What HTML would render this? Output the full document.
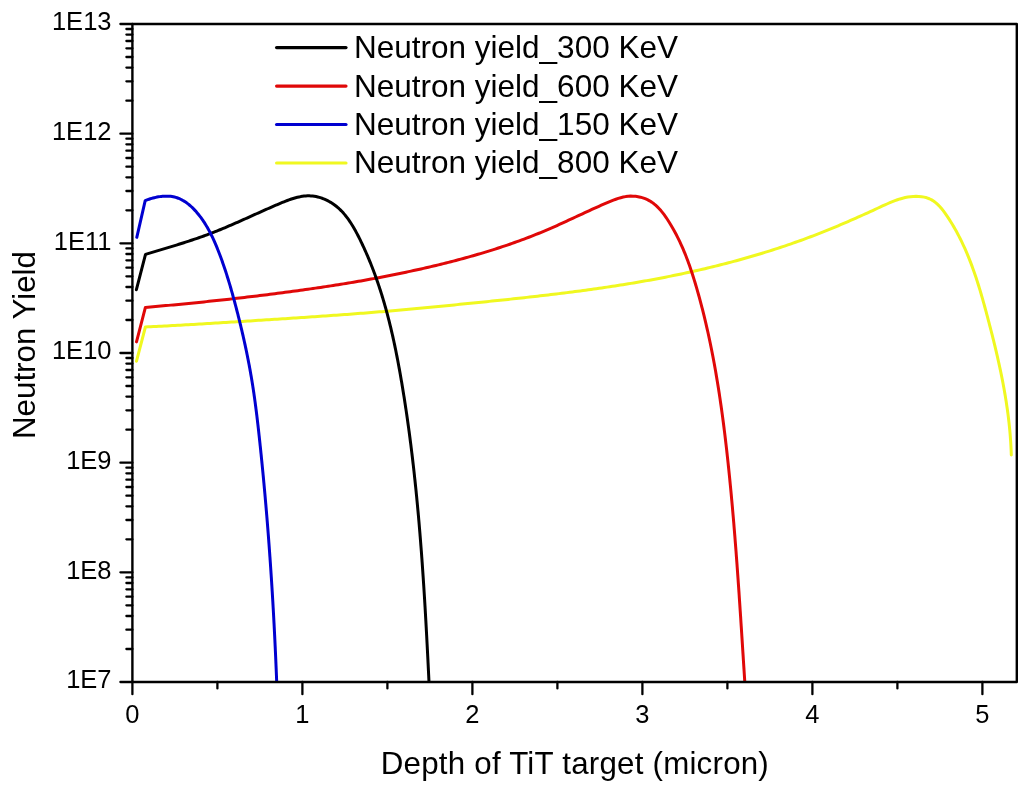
<!DOCTYPE html>
<html><head><meta charset="utf-8"><title>Neutron Yield vs Depth</title>
<style>
html,body{margin:0;padding:0;background:#fff;}
body{width:1025px;height:789px;overflow:hidden;}
svg{display:block;}
text{font-family:"Liberation Sans",Arial,sans-serif;fill:#000;}
</style></head><body>
<svg width="1025" height="789" viewBox="0 0 1025 789">
<rect x="0" y="0" width="1025" height="789" fill="#fff"/>
<defs><clipPath id="pc"><rect x="132.4" y="24.0" width="884.4" height="659.0"/></clipPath></defs>
<g fill="none" stroke-width="3.0" stroke-linejoin="round" stroke-linecap="round" clip-path="url(#pc)">
<path stroke="#f0f820" d="M136.5,361.2 L145.40,327.00 L148.09,326.87 L150.78,326.74 L153.47,326.60 L156.17,326.46 L158.86,326.32 L161.55,326.18 L164.24,326.04 L166.93,325.89 L169.62,325.75 L172.31,325.60 L175.00,325.45 L177.69,325.30 L180.38,325.15 L183.07,325.00 L185.76,324.84 L188.45,324.69 L191.14,324.53 L193.83,324.38 L196.52,324.22 L199.21,324.06 L201.90,323.90 L204.59,323.74 L207.28,323.58 L209.97,323.41 L212.66,323.25 L215.35,323.08 L218.04,322.92 L220.73,322.75 L223.41,322.59 L226.10,322.42 L228.79,322.25 L231.48,322.08 L234.17,321.91 L236.86,321.74 L239.55,321.57 L242.24,321.40 L244.93,321.23 L247.62,321.06 L250.31,320.89 L253.00,320.72 L255.68,320.55 L258.37,320.37 L261.06,320.20 L263.75,320.03 L266.44,319.85 L269.13,319.68 L271.82,319.51 L274.51,319.33 L277.20,319.16 L279.89,318.99 L282.58,318.81 L285.27,318.64 L287.96,318.46 L290.65,318.29 L293.34,318.11 L296.03,317.93 L298.72,317.75 L301.41,317.57 L304.09,317.40 L306.78,317.22 L309.47,317.03 L312.16,316.85 L314.85,316.67 L317.54,316.48 L320.23,316.30 L322.92,316.11 L325.61,315.93 L328.29,315.74 L330.98,315.55 L333.67,315.35 L336.36,315.16 L339.05,314.97 L341.74,314.77 L344.42,314.58 L347.11,314.38 L349.80,314.18 L352.48,313.97 L355.17,313.77 L357.86,313.56 L360.54,313.36 L363.23,313.15 L365.92,312.94 L368.60,312.72 L371.29,312.51 L373.97,312.29 L376.66,312.07 L379.34,311.85 L382.03,311.63 L384.71,311.40 L387.39,311.17 L390.08,310.94 L392.76,310.71 L395.44,310.47 L398.13,310.24 L400.81,310.00 L403.49,309.76 L406.17,309.51 L408.86,309.27 L411.54,309.02 L414.22,308.77 L416.90,308.52 L419.58,308.27 L422.26,308.02 L424.95,307.77 L427.63,307.51 L430.31,307.25 L432.99,306.99 L435.67,306.73 L438.35,306.47 L441.03,306.21 L443.71,305.95 L446.39,305.68 L449.07,305.42 L451.75,305.15 L454.43,304.89 L457.12,304.62 L459.80,304.35 L462.48,304.08 L465.16,303.82 L467.84,303.55 L470.52,303.28 L473.20,303.01 L475.88,302.73 L478.56,302.46 L481.25,302.19 L483.93,301.92 L486.61,301.64 L489.29,301.37 L491.97,301.09 L494.65,300.82 L497.34,300.54 L500.02,300.26 L502.70,299.98 L505.38,299.70 L508.06,299.41 L510.74,299.13 L513.42,298.84 L516.10,298.55 L518.79,298.26 L521.47,297.97 L524.15,297.67 L526.83,297.38 L529.51,297.08 L532.19,296.78 L534.86,296.48 L537.54,296.17 L540.22,295.86 L542.90,295.55 L545.58,295.24 L548.26,294.92 L550.93,294.61 L553.61,294.28 L556.29,293.96 L558.96,293.63 L561.64,293.30 L564.31,292.97 L566.99,292.63 L569.66,292.29 L572.33,291.95 L575.01,291.60 L577.68,291.25 L580.35,290.90 L583.02,290.54 L585.69,290.18 L588.36,289.81 L591.03,289.44 L593.70,289.07 L596.37,288.69 L599.03,288.31 L601.70,287.92 L604.37,287.53 L607.03,287.14 L609.70,286.74 L612.36,286.33 L615.02,285.93 L617.68,285.51 L620.35,285.09 L623.01,284.67 L625.67,284.24 L628.32,283.81 L630.98,283.37 L633.64,282.93 L636.29,282.48 L638.95,282.02 L641.60,281.56 L644.26,281.10 L646.91,280.62 L649.56,280.15 L652.21,279.66 L654.86,279.18 L657.50,278.68 L660.15,278.18 L662.80,277.67 L665.44,277.16 L668.08,276.64 L670.73,276.12 L673.37,275.58 L676.01,275.04 L678.65,274.50 L681.28,273.95 L683.92,273.39 L686.55,272.82 L689.19,272.25 L691.82,271.67 L694.45,271.08 L697.08,270.49 L699.71,269.89 L702.33,269.28 L704.96,268.67 L707.58,268.04 L710.21,267.41 L712.83,266.78 L715.44,266.13 L718.06,265.48 L720.68,264.82 L723.29,264.15 L725.90,263.48 L728.51,262.80 L731.12,262.11 L733.72,261.41 L736.32,260.71 L738.93,259.99 L741.52,259.27 L744.12,258.54 L746.71,257.81 L749.31,257.06 L751.90,256.31 L754.48,255.55 L757.07,254.78 L759.65,254.01 L762.23,253.22 L764.80,252.43 L767.38,251.63 L769.95,250.82 L772.51,250.01 L775.08,249.18 L777.64,248.35 L780.20,247.51 L782.76,246.66 L785.31,245.80 L787.86,244.93 L790.41,244.06 L792.95,243.17 L795.49,242.28 L798.03,241.38 L800.56,240.47 L803.09,239.55 L805.62,238.62 L808.14,237.69 L810.66,236.74 L813.17,235.79 L815.68,234.82 L818.19,233.85 L820.70,232.87 L823.20,231.88 L825.69,230.88 L828.19,229.88 L830.68,228.86 L833.16,227.84 L835.65,226.81 L838.13,225.77 L840.61,224.72 L843.08,223.67 L845.56,222.61 L848.03,221.54 L850.50,220.47 L852.97,219.39 L855.44,218.30 L857.90,217.20 L860.36,216.11 L862.83,215.00 L865.29,213.89 L867.75,212.77 L870.21,211.65 L872.67,210.53 L875.13,209.40 L877.59,208.26 L880.05,207.12 L882.51,205.98 L884.98,204.85 L887.45,203.75 L889.93,202.67 L892.43,201.64 L894.94,200.67 L897.47,199.76 L900.03,198.94 L902.61,198.21 L905.22,197.58 L907.86,197.06 L910.54,196.68 L913.26,196.43 L916.02,196.33 L918.79,196.40 L921.54,196.66 L924.23,197.12 L926.84,197.80 L929.31,198.72 L931.65,199.88 L933.84,201.27 L935.92,202.85 L937.87,204.60 L939.73,206.50 L941.50,208.53 L943.19,210.65 L944.82,212.85 L946.39,215.10 L947.92,217.37 L949.41,219.66 L950.87,221.97 L952.29,224.29 L953.67,226.62 L955.03,228.97 L956.35,231.33 L957.63,233.71 L958.89,236.09 L960.11,238.50 L961.31,240.91 L962.48,243.34 L963.62,245.77 L964.73,248.22 L965.81,250.68 L966.88,253.15 L967.91,255.63 L968.92,258.12 L969.91,260.62 L970.88,263.12 L971.83,265.64 L972.75,268.16 L973.66,270.70 L974.54,273.24 L975.41,275.78 L976.26,278.34 L977.10,280.90 L977.92,283.46 L978.73,286.03 L979.52,288.61 L980.30,291.19 L981.06,293.78 L981.82,296.37 L982.56,298.96 L983.30,301.56 L984.02,304.16 L984.74,306.76 L985.45,309.37 L986.16,311.97 L986.86,314.58 L987.55,317.19 L988.24,319.80 L988.93,322.41 L989.61,325.03 L990.29,327.64 L990.96,330.25 L991.63,332.87 L992.29,335.48 L992.95,338.10 L993.60,340.72 L994.24,343.34 L994.88,345.96 L995.51,348.58 L996.13,351.20 L996.75,353.83 L997.35,356.45 L997.95,359.08 L998.54,361.71 L999.12,364.34 L999.69,366.97 L1000.26,369.60 L1000.81,372.24 L1001.35,374.87 L1001.88,377.51 L1002.40,380.15 L1002.91,382.79 L1003.41,385.44 L1003.89,388.08 L1004.37,390.73 L1004.83,393.38 L1005.28,396.03 L1005.71,398.69 L1006.14,401.34 L1006.54,404.00 L1006.94,406.66 L1007.32,409.33 L1007.69,411.99 L1008.04,414.66 L1008.37,417.33 L1008.69,420.00 L1009.00,422.68 L1009.28,425.36 L1009.56,428.04 L1009.81,430.72 L1010.05,433.41 L1010.27,436.10 L1010.47,438.79 L1010.66,441.48 L1010.82,444.18 L1010.97,446.88 L1011.10,449.58 L1011.21,452.29 L1011.30,455.00"/>
<path stroke="#e00808" d="M136.5,341.9 L145.40,307.40 L147.95,307.18 L150.50,306.96 L153.05,306.74 L155.59,306.52 L158.14,306.29 L160.69,306.06 L163.23,305.83 L165.78,305.60 L168.32,305.37 L170.87,305.13 L173.41,304.90 L175.96,304.66 L178.50,304.42 L181.05,304.17 L183.59,303.93 L186.13,303.68 L188.68,303.43 L191.22,303.18 L193.76,302.93 L196.30,302.67 L198.84,302.41 L201.38,302.15 L203.92,301.89 L206.46,301.63 L209.00,301.36 L211.54,301.09 L214.08,300.82 L216.62,300.55 L219.16,300.28 L221.70,300.00 L224.24,299.72 L226.78,299.44 L229.31,299.16 L231.85,298.87 L234.39,298.59 L236.93,298.30 L239.46,298.00 L242.00,297.71 L244.54,297.41 L247.08,297.11 L249.61,296.81 L252.15,296.51 L254.68,296.20 L257.22,295.90 L259.76,295.59 L262.29,295.27 L264.83,294.96 L267.36,294.64 L269.90,294.32 L272.44,294.00 L274.97,293.68 L277.51,293.35 L280.04,293.02 L282.58,292.69 L285.11,292.35 L287.65,292.02 L290.18,291.68 L292.72,291.34 L295.25,290.99 L297.79,290.65 L300.32,290.30 L302.86,289.95 L305.39,289.59 L307.93,289.23 L310.46,288.87 L312.99,288.51 L315.53,288.14 L318.06,287.77 L320.59,287.40 L323.12,287.02 L325.65,286.64 L328.18,286.26 L330.71,285.87 L333.23,285.48 L335.76,285.08 L338.29,284.68 L340.81,284.28 L343.33,283.87 L345.85,283.46 L348.37,283.05 L350.89,282.63 L353.41,282.20 L355.93,281.77 L358.44,281.34 L360.96,280.90 L363.47,280.46 L365.98,280.01 L368.49,279.56 L370.99,279.10 L373.50,278.64 L376.00,278.17 L378.51,277.70 L381.01,277.22 L383.51,276.74 L386.01,276.25 L388.51,275.76 L391.01,275.26 L393.51,274.76 L396.01,274.26 L398.51,273.74 L401.01,273.23 L403.51,272.71 L406.01,272.18 L408.51,271.65 L411.01,271.12 L413.50,270.58 L416.00,270.03 L418.50,269.48 L421.00,268.92 L423.49,268.36 L425.99,267.79 L428.48,267.21 L430.98,266.63 L433.47,266.04 L435.96,265.45 L438.45,264.85 L440.94,264.24 L443.43,263.63 L445.91,263.01 L448.40,262.38 L450.88,261.75 L453.36,261.11 L455.84,260.46 L458.32,259.81 L460.79,259.15 L463.27,258.48 L465.74,257.80 L468.20,257.12 L470.67,256.43 L473.13,255.73 L475.59,255.02 L478.05,254.30 L480.50,253.58 L482.96,252.85 L485.41,252.11 L487.85,251.36 L490.29,250.60 L492.73,249.83 L495.17,249.06 L497.60,248.28 L500.03,247.48 L502.46,246.68 L504.88,245.87 L507.30,245.05 L509.71,244.22 L512.12,243.38 L514.53,242.54 L516.93,241.68 L519.32,240.81 L521.72,239.93 L524.10,239.04 L526.49,238.15 L528.87,237.24 L531.24,236.32 L533.61,235.39 L535.98,234.45 L538.34,233.50 L540.69,232.54 L543.04,231.57 L545.38,230.59 L547.72,229.59 L550.05,228.59 L552.38,227.57 L554.70,226.55 L557.02,225.51 L559.34,224.47 L561.66,223.42 L563.97,222.36 L566.28,221.30 L568.59,220.23 L570.90,219.16 L573.22,218.09 L575.53,217.01 L577.85,215.93 L580.17,214.85 L582.49,213.77 L584.82,212.69 L587.16,211.61 L589.50,210.53 L591.85,209.46 L594.20,208.39 L596.56,207.33 L598.94,206.27 L601.32,205.21 L603.71,204.17 L606.11,203.13 L608.53,202.11 L610.95,201.10 L613.39,200.14 L615.84,199.24 L618.29,198.42 L620.76,197.69 L623.23,197.08 L625.70,196.60 L628.19,196.28 L630.67,196.12 L633.15,196.13 L635.62,196.31 L638.06,196.66 L640.47,197.17 L642.83,197.84 L645.14,198.67 L647.39,199.66 L649.57,200.81 L651.66,202.11 L653.66,203.56 L655.59,205.15 L657.43,206.86 L659.21,208.68 L660.91,210.60 L662.55,212.60 L664.13,214.67 L665.66,216.81 L667.13,218.99 L668.56,221.20 L669.95,223.44 L671.30,225.68 L672.61,227.94 L673.89,230.21 L675.13,232.49 L676.34,234.78 L677.52,237.08 L678.66,239.39 L679.77,241.71 L680.86,244.04 L681.91,246.38 L682.94,248.72 L683.93,251.08 L684.91,253.44 L685.86,255.81 L686.78,258.18 L687.68,260.57 L688.56,262.96 L689.42,265.35 L690.26,267.75 L691.08,270.16 L691.89,272.58 L692.67,274.99 L693.45,277.42 L694.20,279.84 L694.94,282.28 L695.67,284.71 L696.39,287.15 L697.10,289.59 L697.80,292.04 L698.48,294.49 L699.16,296.94 L699.83,299.40 L700.49,301.85 L701.14,304.31 L701.79,306.78 L702.42,309.24 L703.04,311.71 L703.66,314.18 L704.27,316.65 L704.87,319.13 L705.46,321.61 L706.04,324.09 L706.61,326.57 L707.18,329.05 L707.74,331.54 L708.29,334.03 L708.83,336.52 L709.36,339.02 L709.89,341.51 L710.41,344.01 L710.92,346.51 L711.43,349.01 L711.92,351.52 L712.41,354.02 L712.90,356.53 L713.37,359.04 L713.84,361.55 L714.31,364.07 L714.76,366.58 L715.21,369.10 L715.65,371.61 L716.09,374.13 L716.52,376.65 L716.94,379.18 L717.36,381.70 L717.77,384.23 L718.18,386.75 L718.58,389.28 L718.97,391.81 L719.36,394.34 L719.74,396.87 L720.12,399.40 L720.49,401.93 L720.86,404.47 L721.22,407.00 L721.58,409.54 L721.93,412.08 L722.28,414.61 L722.62,417.15 L722.96,419.69 L723.29,422.23 L723.62,424.77 L723.94,427.31 L724.26,429.86 L724.58,432.40 L724.89,434.94 L725.20,437.48 L725.50,440.03 L725.80,442.57 L726.10,445.12 L726.39,447.66 L726.68,450.20 L726.97,452.75 L727.25,455.29 L727.53,457.84 L727.80,460.38 L728.07,462.93 L728.34,465.47 L728.61,468.02 L728.88,470.56 L729.14,473.11 L729.39,475.65 L729.65,478.20 L729.90,480.74 L730.15,483.29 L730.40,485.83 L730.65,488.37 L730.89,490.92 L731.13,493.46 L731.37,496.01 L731.60,498.55 L731.84,501.09 L732.07,503.64 L732.30,506.18 L732.52,508.73 L732.75,511.27 L732.97,513.81 L733.19,516.36 L733.41,518.90 L733.62,521.44 L733.84,523.99 L734.05,526.53 L734.26,529.08 L734.47,531.62 L734.67,534.16 L734.88,536.71 L735.08,539.25 L735.28,541.80 L735.48,544.34 L735.68,546.88 L735.87,549.43 L736.07,551.97 L736.26,554.52 L736.45,557.06 L736.64,559.61 L736.83,562.15 L737.02,564.70 L737.20,567.24 L737.39,569.79 L737.57,572.33 L737.75,574.88 L737.93,577.42 L738.11,579.97 L738.29,582.52 L738.47,585.06 L738.65,587.61 L738.82,590.15 L739.00,592.70 L739.17,595.25 L739.34,597.80 L739.51,600.34 L739.68,602.89 L739.85,605.44 L740.02,607.99 L740.19,610.53 L740.36,613.08 L740.53,615.63 L740.70,618.18 L740.86,620.73 L741.03,623.28 L741.19,625.83 L741.36,628.38 L741.52,630.93 L741.69,633.48 L741.85,636.03 L742.02,638.58 L742.18,641.13 L742.34,643.68 L742.51,646.24 L742.67,648.79 L742.83,651.34 L743.00,653.89 L743.16,656.45 L743.32,659.00 L743.49,661.56 L743.65,664.11 L743.81,666.66 L743.98,669.22 L744.14,671.78 L744.31,674.33 L744.47,676.89 L744.63,679.44 L744.80,682.00"/>
<path stroke="#000000" d="M136.4,289.7 L145.50,254.40 L147.16,253.90 L148.81,253.40 L150.47,252.90 L152.13,252.40 L153.79,251.90 L155.46,251.40 L157.12,250.90 L158.79,250.40 L160.46,249.90 L162.13,249.40 L163.80,248.89 L165.48,248.39 L167.15,247.89 L168.82,247.38 L170.50,246.87 L172.17,246.36 L173.84,245.85 L175.52,245.33 L177.19,244.81 L178.86,244.29 L180.53,243.77 L182.20,243.24 L183.87,242.71 L185.54,242.17 L187.21,241.64 L188.87,241.09 L190.53,240.55 L192.19,239.99 L193.85,239.44 L195.51,238.88 L197.16,238.31 L198.81,237.74 L200.46,237.16 L202.10,236.58 L203.75,235.99 L205.38,235.39 L207.02,234.79 L208.65,234.18 L210.27,233.57 L211.89,232.95 L213.51,232.32 L215.13,231.68 L216.74,231.04 L218.35,230.40 L219.95,229.75 L221.56,229.09 L223.16,228.43 L224.75,227.76 L226.35,227.09 L227.94,226.41 L229.53,225.73 L231.12,225.05 L232.71,224.36 L234.30,223.67 L235.89,222.98 L237.47,222.28 L239.06,221.58 L240.64,220.87 L242.23,220.17 L243.81,219.46 L245.40,218.75 L246.98,218.04 L248.57,217.33 L250.16,216.62 L251.75,215.90 L253.33,215.19 L254.93,214.47 L256.52,213.75 L258.11,213.04 L259.71,212.32 L261.31,211.61 L262.91,210.89 L264.51,210.18 L266.12,209.46 L267.72,208.75 L269.34,208.04 L270.95,207.33 L272.57,206.62 L274.19,205.92 L275.82,205.22 L277.45,204.52 L279.09,203.82 L280.73,203.13 L282.37,202.44 L284.02,201.77 L285.67,201.12 L287.33,200.48 L288.99,199.87 L290.66,199.29 L292.33,198.74 L294.00,198.22 L295.67,197.75 L297.35,197.32 L299.04,196.93 L300.72,196.60 L302.41,196.33 L304.11,196.11 L305.80,195.96 L307.50,195.87 L309.21,195.86 L310.91,195.92 L312.62,196.06 L314.33,196.28 L316.04,196.58 L317.74,196.96 L319.44,197.41 L321.12,197.93 L322.78,198.52 L324.41,199.17 L326.03,199.88 L327.61,200.64 L329.15,201.46 L330.66,202.33 L332.12,203.25 L333.54,204.21 L334.93,205.21 L336.27,206.26 L337.58,207.35 L338.86,208.48 L340.10,209.64 L341.30,210.84 L342.48,212.08 L343.62,213.35 L344.73,214.65 L345.81,215.98 L346.87,217.33 L347.90,218.72 L348.91,220.12 L349.89,221.56 L350.84,223.01 L351.78,224.48 L352.70,225.97 L353.59,227.48 L354.47,229.01 L355.33,230.54 L356.17,232.09 L357.00,233.65 L357.82,235.22 L358.63,236.80 L359.42,238.38 L360.20,239.96 L360.97,241.55 L361.74,243.14 L362.49,244.74 L363.24,246.33 L363.98,247.93 L364.71,249.54 L365.43,251.14 L366.14,252.75 L366.84,254.36 L367.54,255.97 L368.22,257.58 L368.90,259.20 L369.57,260.82 L370.24,262.44 L370.89,264.06 L371.54,265.69 L372.17,267.32 L372.81,268.95 L373.43,270.58 L374.04,272.21 L374.65,273.85 L375.25,275.49 L375.85,277.13 L376.43,278.77 L377.01,280.42 L377.58,282.07 L378.15,283.72 L378.70,285.37 L379.26,287.02 L379.80,288.68 L380.34,290.33 L380.87,291.99 L381.39,293.65 L381.91,295.32 L382.42,296.98 L382.93,298.65 L383.42,300.31 L383.92,301.98 L384.40,303.66 L384.88,305.33 L385.36,307.00 L385.83,308.68 L386.29,310.36 L386.75,312.04 L387.20,313.72 L387.64,315.40 L388.08,317.08 L388.52,318.77 L388.95,320.45 L389.37,322.14 L389.79,323.83 L390.21,325.52 L390.62,327.21 L391.02,328.91 L391.42,330.60 L391.82,332.29 L392.21,333.99 L392.59,335.69 L392.98,337.39 L393.35,339.09 L393.73,340.79 L394.09,342.49 L394.46,344.19 L394.82,345.90 L395.17,347.60 L395.53,349.31 L395.88,351.02 L396.22,352.72 L396.56,354.43 L396.90,356.14 L397.23,357.85 L397.56,359.56 L397.89,361.27 L398.21,362.99 L398.53,364.70 L398.85,366.41 L399.16,368.13 L399.47,369.84 L399.78,371.56 L400.09,373.27 L400.39,374.99 L400.69,376.71 L400.99,378.43 L401.28,380.14 L401.58,381.86 L401.87,383.58 L402.15,385.30 L402.44,387.02 L402.72,388.74 L403.00,390.46 L403.28,392.18 L403.56,393.90 L403.83,395.62 L404.11,397.34 L404.38,399.06 L404.65,400.79 L404.91,402.51 L405.18,404.23 L405.44,405.95 L405.70,407.68 L405.96,409.40 L406.22,411.12 L406.47,412.85 L406.72,414.57 L406.97,416.30 L407.22,418.02 L407.47,419.75 L407.71,421.47 L407.95,423.20 L408.19,424.92 L408.43,426.65 L408.67,428.38 L408.90,430.10 L409.14,431.83 L409.37,433.56 L409.60,435.28 L409.83,437.01 L410.05,438.74 L410.27,440.47 L410.50,442.20 L410.72,443.93 L410.94,445.65 L411.15,447.38 L411.37,449.11 L411.58,450.84 L411.79,452.57 L412.00,454.30 L412.21,456.03 L412.42,457.76 L412.62,459.49 L412.82,461.23 L413.02,462.96 L413.22,464.69 L413.42,466.42 L413.62,468.15 L413.81,469.88 L414.01,471.62 L414.20,473.35 L414.39,475.08 L414.57,476.81 L414.76,478.55 L414.95,480.28 L415.13,482.01 L415.31,483.75 L415.49,485.48 L415.67,487.22 L415.85,488.95 L416.03,490.68 L416.20,492.42 L416.37,494.15 L416.55,495.89 L416.72,497.62 L416.88,499.36 L417.05,501.09 L417.22,502.83 L417.38,504.56 L417.55,506.30 L417.71,508.04 L417.87,509.77 L418.03,511.51 L418.19,513.25 L418.34,514.98 L418.50,516.72 L418.65,518.46 L418.80,520.19 L418.96,521.93 L419.11,523.67 L419.25,525.40 L419.40,527.14 L419.55,528.88 L419.69,530.62 L419.84,532.36 L419.98,534.09 L420.12,535.83 L420.26,537.57 L420.40,539.31 L420.54,541.05 L420.68,542.79 L420.81,544.52 L420.95,546.26 L421.08,548.00 L421.21,549.74 L421.35,551.48 L421.48,553.22 L421.61,554.96 L421.73,556.70 L421.86,558.44 L421.99,560.18 L422.11,561.92 L422.24,563.66 L422.36,565.40 L422.48,567.14 L422.60,568.88 L422.72,570.62 L422.84,572.36 L422.96,574.10 L423.08,575.84 L423.20,577.58 L423.31,579.32 L423.43,581.06 L423.54,582.80 L423.66,584.54 L423.77,586.28 L423.88,588.02 L423.99,589.76 L424.10,591.50 L424.21,593.24 L424.32,594.98 L424.43,596.72 L424.53,598.46 L424.64,600.20 L424.74,601.94 L424.85,603.68 L424.95,605.42 L425.06,607.16 L425.16,608.91 L425.26,610.65 L425.36,612.39 L425.46,614.13 L425.56,615.87 L425.66,617.61 L425.76,619.35 L425.86,621.09 L425.96,622.83 L426.05,624.57 L426.15,626.31 L426.25,628.05 L426.34,629.80 L426.43,631.54 L426.53,633.28 L426.62,635.02 L426.72,636.76 L426.81,638.50 L426.90,640.24 L426.99,641.98 L427.08,643.72 L427.17,645.46 L427.26,647.20 L427.35,648.94 L427.44,650.68 L427.53,652.42 L427.62,654.16 L427.71,655.90 L427.80,657.64 L427.89,659.38 L427.97,661.12 L428.06,662.86 L428.15,664.60 L428.23,666.34 L428.32,668.08 L428.40,669.82 L428.49,671.56 L428.57,673.30 L428.66,675.04 L428.74,676.78 L428.83,678.52 L428.91,680.26 L429.00,682.00"/>
<path stroke="#0000d0" d="M136.8,237.3 L145.20,200.60 L146.45,200.13 L147.73,199.66 L149.03,199.22 L150.34,198.79 L151.67,198.39 L153.01,198.02 L154.36,197.68 L155.71,197.36 L157.08,197.08 L158.44,196.83 L159.82,196.62 L161.19,196.44 L162.56,196.30 L163.92,196.20 L165.29,196.14 L166.64,196.13 L167.99,196.16 L169.33,196.24 L170.65,196.36 L171.96,196.54 L173.25,196.77 L174.53,197.05 L175.79,197.39 L177.02,197.78 L178.24,198.22 L179.44,198.71 L180.62,199.25 L181.78,199.83 L182.92,200.45 L184.05,201.12 L185.15,201.82 L186.24,202.56 L187.31,203.34 L188.36,204.15 L189.39,204.99 L190.40,205.86 L191.40,206.76 L192.38,207.69 L193.34,208.64 L194.28,209.61 L195.20,210.61 L196.11,211.62 L197.00,212.65 L197.87,213.69 L198.73,214.74 L199.57,215.81 L200.39,216.89 L201.20,217.98 L201.99,219.08 L202.76,220.20 L203.52,221.32 L204.27,222.45 L205.00,223.59 L205.71,224.74 L206.42,225.91 L207.11,227.07 L207.78,228.25 L208.45,229.44 L209.10,230.63 L209.74,231.83 L210.37,233.04 L210.98,234.25 L211.59,235.47 L212.18,236.69 L212.77,237.93 L213.34,239.16 L213.91,240.40 L214.47,241.65 L215.01,242.89 L215.55,244.15 L216.08,245.40 L216.61,246.66 L217.12,247.92 L217.63,249.19 L218.14,250.45 L218.63,251.72 L219.12,252.99 L219.61,254.25 L220.09,255.52 L220.56,256.79 L221.03,258.06 L221.49,259.34 L221.95,260.61 L222.41,261.88 L222.85,263.15 L223.30,264.43 L223.74,265.70 L224.17,266.98 L224.60,268.25 L225.03,269.53 L225.45,270.81 L225.87,272.09 L226.29,273.37 L226.70,274.65 L227.10,275.93 L227.50,277.21 L227.90,278.49 L228.30,279.77 L228.69,281.06 L229.08,282.34 L229.46,283.63 L229.85,284.91 L230.22,286.20 L230.60,287.49 L230.97,288.77 L231.34,290.06 L231.71,291.35 L232.07,292.64 L232.44,293.94 L232.80,295.23 L233.15,296.52 L233.51,297.82 L233.86,299.11 L234.21,300.41 L234.56,301.70 L234.91,303.00 L235.26,304.30 L235.60,305.60 L235.94,306.90 L236.28,308.20 L236.62,309.50 L236.96,310.80 L237.29,312.11 L237.63,313.41 L237.96,314.72 L238.29,316.02 L238.62,317.33 L238.95,318.64 L239.27,319.95 L239.59,321.26 L239.92,322.57 L240.24,323.88 L240.55,325.19 L240.87,326.50 L241.18,327.81 L241.49,329.13 L241.80,330.44 L242.11,331.76 L242.42,333.07 L242.72,334.39 L243.02,335.70 L243.32,337.02 L243.62,338.34 L243.92,339.66 L244.21,340.98 L244.50,342.30 L244.79,343.62 L245.08,344.94 L245.36,346.26 L245.65,347.59 L245.93,348.91 L246.20,350.23 L246.48,351.56 L246.75,352.88 L247.02,354.21 L247.29,355.53 L247.56,356.86 L247.82,358.18 L248.08,359.51 L248.34,360.84 L248.60,362.17 L248.85,363.49 L249.11,364.82 L249.36,366.15 L249.60,367.48 L249.85,368.81 L250.09,370.14 L250.33,371.47 L250.56,372.80 L250.80,374.14 L251.03,375.47 L251.26,376.80 L251.48,378.13 L251.70,379.46 L251.92,380.80 L252.14,382.13 L252.36,383.46 L252.57,384.80 L252.78,386.13 L252.99,387.47 L253.19,388.80 L253.39,390.14 L253.59,391.47 L253.79,392.81 L253.98,394.14 L254.17,395.48 L254.36,396.82 L254.55,398.15 L254.74,399.49 L254.92,400.83 L255.10,402.16 L255.28,403.50 L255.46,404.84 L255.64,406.18 L255.81,407.51 L255.98,408.85 L256.15,410.19 L256.32,411.53 L256.49,412.87 L256.65,414.21 L256.82,415.54 L256.98,416.88 L257.14,418.22 L257.30,419.56 L257.46,420.90 L257.61,422.24 L257.77,423.58 L257.92,424.92 L258.08,426.26 L258.23,427.60 L258.38,428.94 L258.53,430.28 L258.68,431.62 L258.83,432.97 L258.97,434.31 L259.12,435.65 L259.27,436.99 L259.41,438.33 L259.55,439.67 L259.70,441.01 L259.84,442.35 L259.98,443.70 L260.12,445.04 L260.27,446.38 L260.41,447.72 L260.55,449.06 L260.69,450.40 L260.82,451.75 L260.96,453.09 L261.10,454.43 L261.24,455.77 L261.37,457.12 L261.51,458.46 L261.64,459.80 L261.78,461.14 L261.91,462.49 L262.05,463.83 L262.18,465.17 L262.31,466.52 L262.44,467.86 L262.57,469.20 L262.70,470.54 L262.83,471.89 L262.96,473.23 L263.09,474.57 L263.22,475.92 L263.35,477.26 L263.48,478.61 L263.60,479.95 L263.73,481.29 L263.85,482.64 L263.98,483.98 L264.10,485.32 L264.23,486.67 L264.35,488.01 L264.47,489.36 L264.59,490.70 L264.72,492.04 L264.84,493.39 L264.96,494.73 L265.08,496.08 L265.20,497.42 L265.31,498.77 L265.43,500.11 L265.55,501.46 L265.67,502.80 L265.78,504.15 L265.90,505.49 L266.01,506.84 L266.13,508.18 L266.24,509.53 L266.36,510.87 L266.47,512.22 L266.58,513.56 L266.70,514.91 L266.81,516.25 L266.92,517.60 L267.03,518.94 L267.14,520.29 L267.25,521.63 L267.36,522.98 L267.46,524.33 L267.57,525.67 L267.68,527.02 L267.79,528.36 L267.89,529.71 L268.00,531.05 L268.10,532.40 L268.21,533.75 L268.31,535.09 L268.42,536.44 L268.52,537.79 L268.62,539.13 L268.72,540.48 L268.82,541.82 L268.92,543.17 L269.03,544.52 L269.13,545.86 L269.22,547.21 L269.32,548.56 L269.42,549.90 L269.52,551.25 L269.62,552.60 L269.71,553.94 L269.81,555.29 L269.90,556.64 L270.00,557.98 L270.09,559.33 L270.19,560.68 L270.28,562.02 L270.38,563.37 L270.47,564.72 L270.56,566.07 L270.65,567.41 L270.74,568.76 L270.83,570.11 L270.92,571.45 L271.01,572.80 L271.10,574.15 L271.19,575.50 L271.28,576.84 L271.37,578.19 L271.45,579.54 L271.54,580.89 L271.63,582.23 L271.71,583.58 L271.80,584.93 L271.88,586.28 L271.97,587.62 L272.05,588.97 L272.13,590.32 L272.22,591.67 L272.30,593.01 L272.38,594.36 L272.46,595.71 L272.54,597.06 L272.62,598.41 L272.70,599.75 L272.78,601.10 L272.86,602.45 L272.94,603.80 L273.02,605.14 L273.09,606.49 L273.17,607.84 L273.25,609.19 L273.32,610.54 L273.40,611.89 L273.47,613.23 L273.55,614.58 L273.62,615.93 L273.69,617.28 L273.77,618.63 L273.84,619.97 L273.91,621.32 L273.98,622.67 L274.06,624.02 L274.13,625.37 L274.20,626.71 L274.27,628.06 L274.34,629.41 L274.40,630.76 L274.47,632.11 L274.54,633.46 L274.61,634.80 L274.68,636.15 L274.74,637.50 L274.81,638.85 L274.87,640.20 L274.94,641.55 L275.00,642.89 L275.07,644.24 L275.13,645.59 L275.20,646.94 L275.26,648.29 L275.32,649.64 L275.38,650.99 L275.44,652.33 L275.51,653.68 L275.57,655.03 L275.63,656.38 L275.69,657.73 L275.75,659.08 L275.81,660.42 L275.86,661.77 L275.92,663.12 L275.98,664.47 L276.04,665.82 L276.09,667.17 L276.15,668.52 L276.21,669.86 L276.26,671.21 L276.32,672.56 L276.37,673.91 L276.43,675.26 L276.48,676.61 L276.53,677.95 L276.59,679.30 L276.64,680.65 L276.69,682.00"/>
</g>
<rect x="132.4" y="24.0" width="884.4" height="658.0" stroke="#000" stroke-width="2.4" fill="none" stroke-linejoin="round"/>
<g stroke="#000" stroke-width="2.3" fill="none" stroke-linecap="round">
<line x1="120.4" y1="682.0" x2="132.4" y2="682.0"/>
<line x1="126.4" y1="649.0" x2="132.4" y2="649.0"/>
<line x1="126.4" y1="629.7" x2="132.4" y2="629.7"/>
<line x1="126.4" y1="616.0" x2="132.4" y2="616.0"/>
<line x1="126.4" y1="605.3" x2="132.4" y2="605.3"/>
<line x1="126.4" y1="596.7" x2="132.4" y2="596.7"/>
<line x1="126.4" y1="589.3" x2="132.4" y2="589.3"/>
<line x1="126.4" y1="583.0" x2="132.4" y2="583.0"/>
<line x1="126.4" y1="577.4" x2="132.4" y2="577.4"/>
<line x1="120.4" y1="572.3" x2="132.4" y2="572.3"/>
<line x1="126.4" y1="539.3" x2="132.4" y2="539.3"/>
<line x1="126.4" y1="520.0" x2="132.4" y2="520.0"/>
<line x1="126.4" y1="506.3" x2="132.4" y2="506.3"/>
<line x1="126.4" y1="495.7" x2="132.4" y2="495.7"/>
<line x1="126.4" y1="487.0" x2="132.4" y2="487.0"/>
<line x1="126.4" y1="479.7" x2="132.4" y2="479.7"/>
<line x1="126.4" y1="473.3" x2="132.4" y2="473.3"/>
<line x1="126.4" y1="467.7" x2="132.4" y2="467.7"/>
<line x1="120.4" y1="462.7" x2="132.4" y2="462.7"/>
<line x1="126.4" y1="429.7" x2="132.4" y2="429.7"/>
<line x1="126.4" y1="410.3" x2="132.4" y2="410.3"/>
<line x1="126.4" y1="396.6" x2="132.4" y2="396.6"/>
<line x1="126.4" y1="386.0" x2="132.4" y2="386.0"/>
<line x1="126.4" y1="377.3" x2="132.4" y2="377.3"/>
<line x1="126.4" y1="370.0" x2="132.4" y2="370.0"/>
<line x1="126.4" y1="363.6" x2="132.4" y2="363.6"/>
<line x1="126.4" y1="358.0" x2="132.4" y2="358.0"/>
<line x1="120.4" y1="353.0" x2="132.4" y2="353.0"/>
<line x1="126.4" y1="320.0" x2="132.4" y2="320.0"/>
<line x1="126.4" y1="300.7" x2="132.4" y2="300.7"/>
<line x1="126.4" y1="287.0" x2="132.4" y2="287.0"/>
<line x1="126.4" y1="276.3" x2="132.4" y2="276.3"/>
<line x1="126.4" y1="267.7" x2="132.4" y2="267.7"/>
<line x1="126.4" y1="260.3" x2="132.4" y2="260.3"/>
<line x1="126.4" y1="254.0" x2="132.4" y2="254.0"/>
<line x1="126.4" y1="248.4" x2="132.4" y2="248.4"/>
<line x1="120.4" y1="243.3" x2="132.4" y2="243.3"/>
<line x1="126.4" y1="210.3" x2="132.4" y2="210.3"/>
<line x1="126.4" y1="191.0" x2="132.4" y2="191.0"/>
<line x1="126.4" y1="177.3" x2="132.4" y2="177.3"/>
<line x1="126.4" y1="166.7" x2="132.4" y2="166.7"/>
<line x1="126.4" y1="158.0" x2="132.4" y2="158.0"/>
<line x1="126.4" y1="150.7" x2="132.4" y2="150.7"/>
<line x1="126.4" y1="144.3" x2="132.4" y2="144.3"/>
<line x1="126.4" y1="138.7" x2="132.4" y2="138.7"/>
<line x1="120.4" y1="133.7" x2="132.4" y2="133.7"/>
<line x1="126.4" y1="100.7" x2="132.4" y2="100.7"/>
<line x1="126.4" y1="81.3" x2="132.4" y2="81.3"/>
<line x1="126.4" y1="67.6" x2="132.4" y2="67.6"/>
<line x1="126.4" y1="57.0" x2="132.4" y2="57.0"/>
<line x1="126.4" y1="48.3" x2="132.4" y2="48.3"/>
<line x1="126.4" y1="41.0" x2="132.4" y2="41.0"/>
<line x1="126.4" y1="34.6" x2="132.4" y2="34.6"/>
<line x1="126.4" y1="29.0" x2="132.4" y2="29.0"/>
<line x1="120.4" y1="24.0" x2="132.4" y2="24.0"/>
<line x1="132.4" y1="682.0" x2="132.4" y2="694.2"/>
<line x1="302.4" y1="682.0" x2="302.4" y2="694.2"/>
<line x1="472.4" y1="682.0" x2="472.4" y2="694.2"/>
<line x1="642.4" y1="682.0" x2="642.4" y2="694.2"/>
<line x1="812.4" y1="682.0" x2="812.4" y2="694.2"/>
<line x1="982.4" y1="682.0" x2="982.4" y2="694.2"/>
<line x1="217.4" y1="682.0" x2="217.4" y2="688.4"/>
<line x1="387.4" y1="682.0" x2="387.4" y2="688.4"/>
<line x1="557.4" y1="682.0" x2="557.4" y2="688.4"/>
<line x1="727.4" y1="682.0" x2="727.4" y2="688.4"/>
<line x1="897.4" y1="682.0" x2="897.4" y2="688.4"/>
</g>
<g font-size="25.5">
<text x="111.5" y="688.2" text-anchor="end">1E7</text>
<text x="111.5" y="578.5" text-anchor="end">1E8</text>
<text x="111.5" y="468.9" text-anchor="end">1E9</text>
<text x="111.5" y="359.2" text-anchor="end">1E10</text>
<text x="111.5" y="249.5" text-anchor="end">1E11</text>
<text x="111.5" y="139.9" text-anchor="end">1E12</text>
<text x="111.5" y="30.2" text-anchor="end">1E13</text>
<text x="132.4" y="723.0" text-anchor="middle">0</text>
<text x="302.4" y="723.0" text-anchor="middle">1</text>
<text x="472.4" y="723.0" text-anchor="middle">2</text>
<text x="642.4" y="723.0" text-anchor="middle">3</text>
<text x="812.4" y="723.0" text-anchor="middle">4</text>
<text x="982.4" y="723.0" text-anchor="middle">5</text>
</g>
<text x="380.8" y="773.6" font-size="31.3" textLength="388.0" lengthAdjust="spacing">Depth of TiT target (micron)</text>
<text transform="translate(34.6,439.0) rotate(-90)" x="0" y="0" font-size="31.3" textLength="188.0" lengthAdjust="spacing">Neutron Yield</text>
<line x1="276.6" y1="47.6" x2="346.0" y2="47.6" stroke="#000000" stroke-width="3.2" stroke-linecap="round"/>
<text x="354.0" y="58.0" font-size="31.5">Neutron yield_300 KeV</text>
<line x1="276.6" y1="86.1" x2="346.0" y2="86.1" stroke="#e00808" stroke-width="3.2" stroke-linecap="round"/>
<text x="354.0" y="96.5" font-size="31.5">Neutron yield_600 KeV</text>
<line x1="276.6" y1="124.5" x2="346.0" y2="124.5" stroke="#0000d0" stroke-width="3.2" stroke-linecap="round"/>
<text x="354.0" y="134.9" font-size="31.5">Neutron yield_150 KeV</text>
<line x1="276.6" y1="163.0" x2="346.0" y2="163.0" stroke="#f0f820" stroke-width="3.2" stroke-linecap="round"/>
<text x="354.0" y="173.4" font-size="31.5">Neutron yield_800 KeV</text>
</svg>
</body></html>
